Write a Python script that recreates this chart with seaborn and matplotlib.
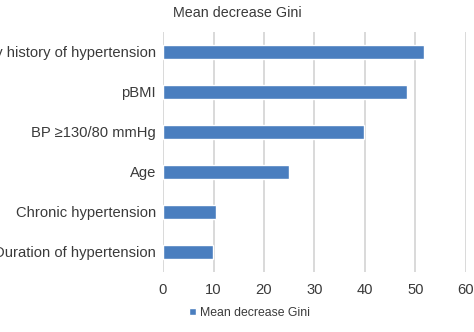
import matplotlib
matplotlib.use("Agg")
import matplotlib.pyplot as plt
import seaborn as sns
import pandas as pd

categories = ["Family history of hypertension", "pBMI", "BP \u2265130/80 mmHg",
              "Age", "Chronic hypertension", "Duration of hypertension"]
values = [51.7, 48.3, 39.9, 25.0, 10.5, 9.8]
xticks = [0, 10, 20, 30, 40, 50, 60]
series_name = "Mean decrease Gini"

sns.set_theme(style="white")
plt.rcParams['font.family'] = ['Liberation Sans', 'DejaVu Sans']

df = pd.DataFrame({"feature": categories, "value": values})

fig = plt.figure(figsize=(4.74, 3.32), dpi=100)
ax = fig.add_axes([0.344, 0.181, 0.639, 0.723])

sns.barplot(data=df, x="value", y="feature", orient="h", color="#4A7EBF",
            width=0.35, saturation=1, ax=ax, label=series_name, zorder=3)

ax.set_xlim(0, 60)
ax.set_ylim(5.5, -0.5)
ax.set_xticks(xticks)
ax.set_xticklabels([str(t) for t in xticks])
ax.xaxis.grid(True, color="#D9D9D9", linewidth=1.4, zorder=0)
ax.yaxis.grid(False)
for s in ax.spines.values():
    s.set_visible(False)
ax.tick_params(axis="both", length=0, labelsize=10.6, colors="#3a3a3a")
ax.tick_params(axis="y", pad=5)
ax.tick_params(axis="x", pad=8)
ax.set_xlabel("")
ax.set_ylabel("")

fig.text(0.5, 0.962, series_name, ha="center", va="center", fontsize=10.3, color="#3a3a3a")

if ax.get_legend() is not None:
    ax.get_legend().remove()
handles, labels = ax.get_legend_handles_labels()
fig.legend(handles[:1], labels[:1], loc="center", bbox_to_anchor=(0.527, 0.057),
           frameon=False, fontsize=8.8, handlelength=0.55, handleheight=0.55,
           handletextpad=0.35, labelcolor="#3a3a3a")

fig.savefig("out.png", dpi=100)
